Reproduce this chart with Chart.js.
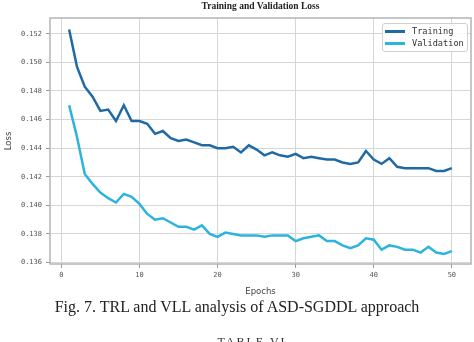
<!DOCTYPE html>
<html lang="en">

<head>
	<meta charset="UTF-8">
	<title>Training and Validation Loss</title>
	<script src="https://cdn.jsdelivr.net/npm/chart.js@4.4.0/dist/chart.umd.min.js"></script>
	<style>
		body { margin: 0; background: #fff; overflow: hidden; }
		#page { position: relative; width: 474px; height: 342px; overflow: hidden; }
		#chart { position: absolute; left: 0; top: 0; }
		#title { position: absolute; left: 50px; width: 421px; top: 0px; text-align: center;
			font: bold 9.5px "Liberation Serif", serif; color: #222; line-height: 12px; }
		#legend { position: absolute; left: 382px; top: 23px; width: 84px; height: 27px;
			border: 1px solid #d0d0d0; border-radius: 3px; background: rgba(255,255,255,0.9); }
		.row { position: absolute; left: 2px; height: 12px; display: flex; align-items: center; }
		.row span.line { width: 20px; height: 3px; margin-right: 7px; }
		.row span.txt { font: 8.6px "DejaVu Sans Mono", monospace; color: #333; }
		#caption { position: absolute; left: 0; width: 474px; top: 297px; text-align: center;
			font: 16px "Liberation Serif", serif; color: #222; line-height: 19px; }
		#next { position: absolute; left: 0; width: 504px; top: 335px; text-align: center;
			font: 12px "Liberation Serif", serif; color: #333; letter-spacing: 2px; }
	</style>
</head>

<body>
	<div id="page">
		<canvas id="chart" width="474" height="300"></canvas>
		<div id="title">Training and Validation Loss</div>
		<div id="legend"></div>
		<div id="caption">Fig. 7. TRL and VLL analysis of ASD-SGDDL approach</div>
		<div id="next">TABLE VI</div>
	</div>

	<script>
		const epochs = [1, 2, 3, 4, 5, 6, 7, 8, 9, 10, 11, 12, 13, 14, 15, 16, 17, 18, 19, 20, 21, 22, 23, 24, 25,
			26, 27, 28, 29, 30, 31, 32, 33, 34, 35, 36, 37, 38, 39, 40, 41, 42, 43, 44, 45, 46, 47, 48, 49, 50];

		const trainingLoss = [0.1523, 0.1497, 0.1483, 0.1476, 0.1466, 0.1467, 0.1459, 0.1470, 0.1459, 0.1459,
			0.1457, 0.1450, 0.1452, 0.1447, 0.1445, 0.1446, 0.1444, 0.1442, 0.1442, 0.1440,
			0.1440, 0.1441, 0.1437, 0.1442, 0.1439, 0.1435, 0.1437, 0.1435, 0.1434, 0.1436,
			0.1433, 0.1434, 0.1433, 0.1432, 0.1432, 0.1430, 0.1429, 0.1430, 0.1438, 0.1432,
			0.1429, 0.1433, 0.1427, 0.1426, 0.1426, 0.1426, 0.1426, 0.1424, 0.1424, 0.1426];

		const validationLoss = [0.1470, 0.1448, 0.1422, 0.1415, 0.1409, 0.1405, 0.1402, 0.1408, 0.1406, 0.1401,
			0.1394, 0.1390, 0.1391, 0.1388, 0.1385, 0.1385, 0.1383, 0.1386, 0.1380, 0.1378,
			0.1381, 0.1380, 0.1379, 0.1379, 0.1379, 0.1378, 0.1379, 0.1379, 0.1379, 0.1375,
			0.1377, 0.1378, 0.1379, 0.1375, 0.1375, 0.1372, 0.1370, 0.1372, 0.1377, 0.1376,
			0.1369, 0.1372, 0.1371, 0.1369, 0.1369, 0.1367, 0.1371, 0.1367, 0.1366, 0.1368];

		const xTicks = [0, 10, 20, 30, 40, 50];
		const yTicks = [0.136, 0.138, 0.140, 0.142, 0.144, 0.146, 0.148, 0.150, 0.152];

		const monoFont = { family: '"DejaVu Sans Mono", monospace', size: 7 };

		// gray box round the plot, like the matplotlib axes frame
		const frame = {
			id: 'frame',
			afterDraw(chart) {
				const a = chart.chartArea;
				const ctx = chart.ctx;
				ctx.save();
				ctx.strokeStyle = '#b4b4b4';
				ctx.lineWidth = 1.5;
				ctx.strokeRect(a.left, a.top, a.right - a.left, a.bottom - a.top);
				ctx.restore();
			}
		};

		const chart = new Chart(document.getElementById('chart').getContext('2d'), {
			type: 'line',
			data: {
				datasets: [{
					label: 'Training',
					data: epochs.map((e, i) => ({ x: e, y: trainingLoss[i] })),
					borderColor: '#1f6aa5',
					borderWidth: 2.5,
					pointRadius: 0,
					tension: 0
				}, {
					label: 'Validation',
					data: epochs.map((e, i) => ({ x: e, y: validationLoss[i] })),
					borderColor: '#2cb3de',
					borderWidth: 2.5,
					pointRadius: 0,
					tension: 0
				}]
			},
			options: {
				responsive: false,
				animation: false,
				layout: { padding: { top: 18, right: 3, left: 0, bottom: 0 } },
				plugins: {
					legend: { display: false },
					title: { display: false },
					tooltip: { enabled: false }
				},
				scales: {
					x: {
						type: 'linear',
						min: -1.45,
						max: 52.45,
						afterBuildTicks: s => { s.ticks = xTicks.map(v => ({ value: v })); },
						afterFit: s => { s.height = 36; },
						grid: { color: '#d6d6d6', lineWidth: 1, tickLength: 4, tickColor: '#999' },
						border: { display: false },
						ticks: { font: monoFont, color: '#555', padding: 3, maxRotation: 0 },
						title: { display: true, text: 'Epochs', font: { family: '"DejaVu Sans", sans-serif', size: 8.5 }, color: '#444', padding: { top: 2, bottom: 3 } }
					},
					y: {
						type: 'linear',
						min: 0.1359,
						max: 0.1531,
						afterBuildTicks: s => { s.ticks = yTicks.map(v => ({ value: v })); },
						afterFit: s => { s.width = 50; },
						grid: { color: '#d6d6d6', lineWidth: 1, tickLength: 4, tickColor: '#999' },
						border: { display: false },
						ticks: { font: monoFont, color: '#555', padding: 4, callback: v => v.toFixed(3) },
						title: { display: true, text: 'Loss', font: { family: '"DejaVu Sans", sans-serif', size: 8.5 }, color: '#444', padding: { top: 4, bottom: 4 } }
					}
				}
			},
			plugins: [frame]
		});

		// legend inside the plot, top right
		const legend = document.getElementById('legend');
		chart.data.datasets.forEach((d, i) => {
			const row = document.createElement('div');
			row.className = 'row';
			row.style.top = (1 + i * 12) + 'px';
			row.innerHTML = '<span class="line" style="background:' + d.borderColor + '"></span><span class="txt">' + d.label + '</span>';
			legend.appendChild(row);
		});
	</script>

</body>

</html>
